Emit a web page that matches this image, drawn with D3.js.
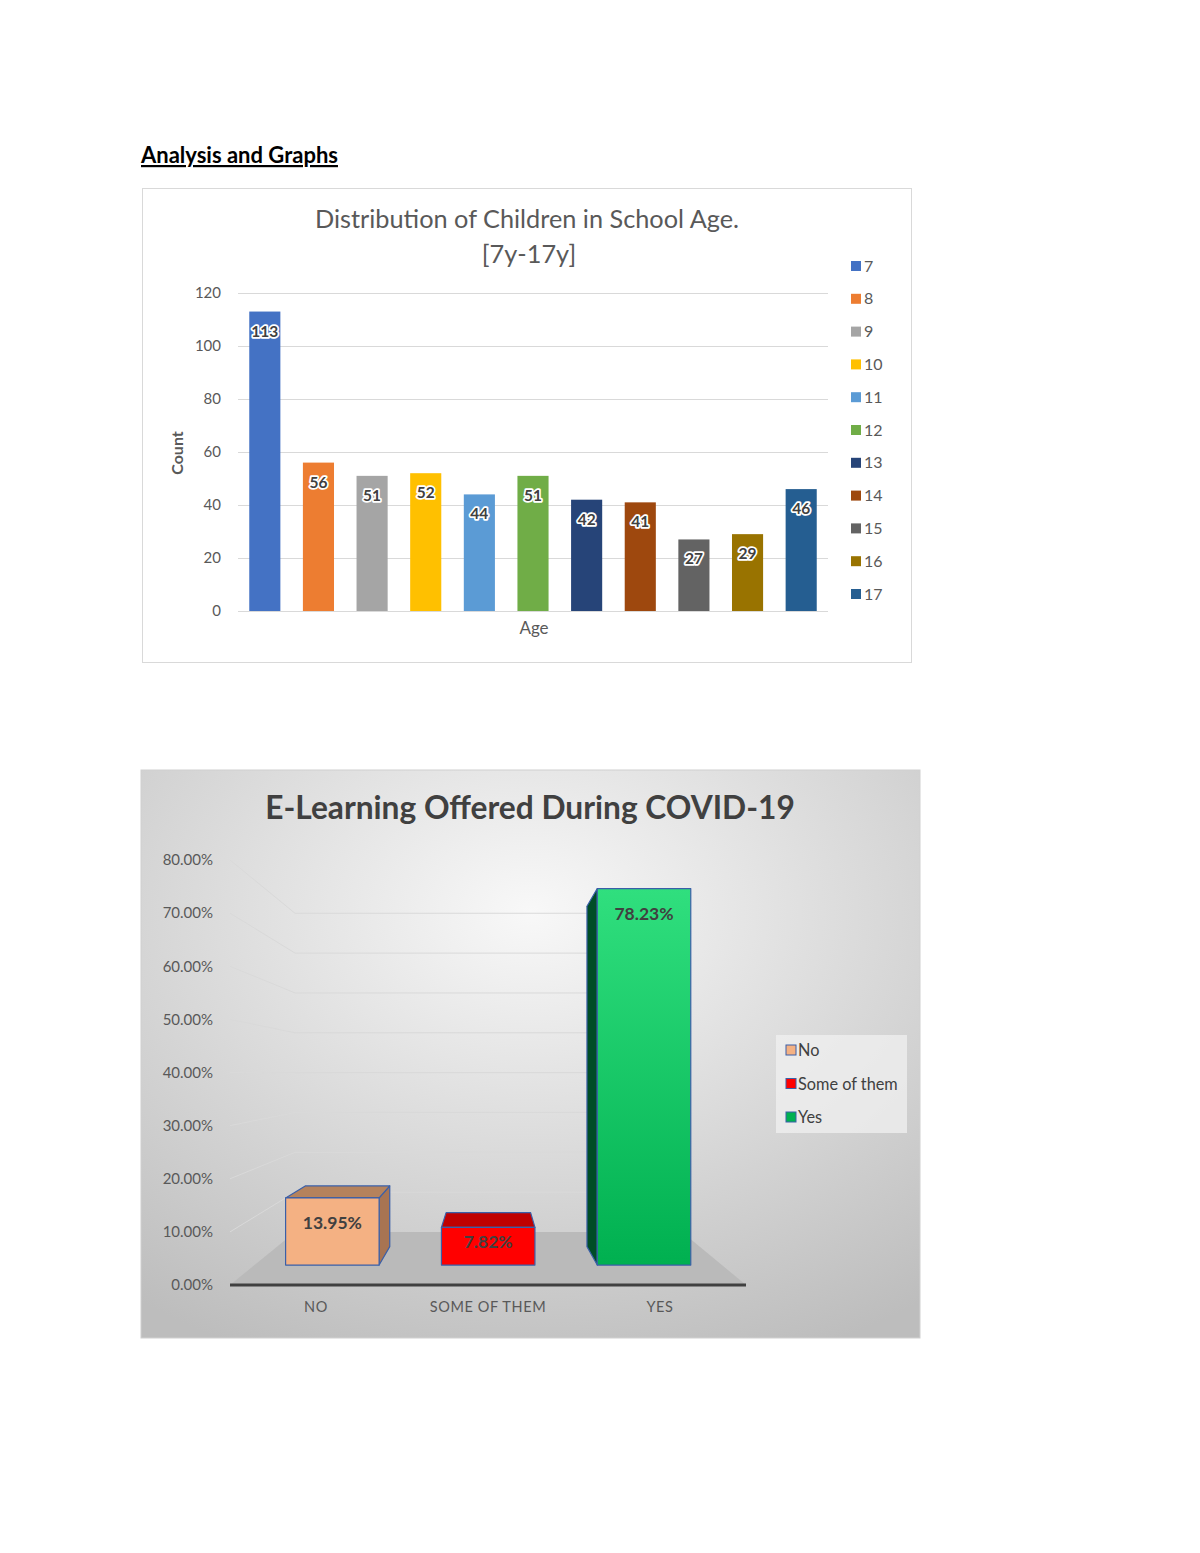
<!DOCTYPE html>
<html>
<head>
<meta charset="utf-8">
<script src="https://cdn.jsdelivr.net/npm/d3@7"></script>
<style>
  html, body { margin: 0; padding: 0; background: #fff; }
  svg { display: block; font-family: Lato, "Noto Sans", sans-serif; }
</style>
</head>
<body>
<div id="page"></div>
<script>
// chart 1: children per age
const ages = ["7", "8", "9", "10", "11", "12", "13", "14", "15", "16", "17"];
const counts = [113, 56, 51, 52, 44, 51, 42, 41, 27, 29, 46];
const ageColors = ["#4472C4", "#ED7D31", "#A5A5A5", "#FFC000", "#5B9BD5", "#70AD47",
                   "#264478", "#9E480E", "#636363", "#997300", "#255E91"];
const countTicks = [0, 20, 40, 60, 80, 100, 120];

// chart 2: e-learning offered
const answers = ["No", "Some of them", "Yes"];
const answerLabels = ["NO", "SOME OF THEM", "YES"];
const shares = [0.1395, 0.0782, 0.7823];
const shareTicks = [0, 0.1, 0.2, 0.3, 0.4, 0.5, 0.6, 0.7, 0.8];
const faceFront = ["#F4B183", "#FF0000", "url(#yesGrad)"];
const faceTop = ["#B5825C", "#C00000", "#1E9E5A"];
const faceSide = ["#A87452", "#A00000", "#004D26"];

const svg = d3.select("#page").append("svg")
  .attr("width", 1200).attr("height", 1553);

const defs = svg.append("defs");
const bg = defs.append("radialGradient").attr("id", "bg2")
  .attr("cx", "50%").attr("cy", "25%").attr("r", "85%");
bg.append("stop").attr("offset", "0%").attr("stop-color", "#f8f8f8");
bg.append("stop").attr("offset", "100%").attr("stop-color", "#bdbdbd");
const yg = defs.append("linearGradient").attr("id", "yesGrad")
  .attr("x1", 0).attr("y1", 0).attr("x2", 0).attr("y2", 1);
yg.append("stop").attr("offset", "0%").attr("stop-color", "#30DF7E");
yg.append("stop").attr("offset", "100%").attr("stop-color", "#00B050");

// page heading
svg.append("text")
  .attr("x", 141).attr("y", 163)
  .attr("font-size", 22).attr("font-weight", "bold")
  .attr("text-decoration", "underline")
  .attr("fill", "#000")
  .text("Analysis and Graphs");

// ---------- chart 1 ----------
const c1 = svg.append("g");
c1.append("rect")
  .attr("x", 142.5).attr("y", 188.5).attr("width", 769).attr("height", 474)
  .attr("fill", "#fff").attr("stroke", "#d9d9d9");

c1.append("text").attr("x", 527).attr("y", 228)
  .attr("text-anchor", "middle").attr("font-size", 25.3).attr("fill", "#595959")
  .text("Distribution of Children in School Age.");
c1.append("text").attr("x", 529).attr("y", 263)
  .attr("text-anchor", "middle").attr("font-size", 25.3).attr("fill", "#595959")
  .text("[7y-17y]");

const x1 = d3.scaleBand().domain(ages).range([238, 828]).paddingInner(0.42).paddingOuter(0.21);
const y1 = d3.scaleLinear().domain([0, 120]).range([611, 293]);

c1.append("g").selectAll("line").data(countTicks).join("line")
  .attr("x1", 238).attr("x2", 828)
  .attr("y1", d => y1(d) + 0.5).attr("y2", d => y1(d) + 0.5)
  .attr("stroke", "#d9d9d9");

const ax1 = c1.append("g").attr("transform", "translate(229,0)")
  .call(d3.axisLeft(y1).tickValues(countTicks).tickSize(0).tickPadding(8));
ax1.select(".domain").remove();
ax1.selectAll("text").attr("font-size", 15).attr("fill", "#595959")
  .attr("font-family", "Lato, sans-serif");

c1.append("g").selectAll("rect").data(counts).join("rect")
  .attr("x", (d, i) => x1(ages[i]))
  .attr("y", d => y1(d))
  .attr("width", x1.bandwidth())
  .attr("height", d => y1(0) - y1(d))
  .attr("fill", (d, i) => ageColors[i]);

c1.append("g").selectAll("text").data(counts).join("text")
  .attr("x", (d, i) => x1(ages[i]) + x1.bandwidth() / 2)
  .attr("y", d => y1(d) + 25)
  .attr("text-anchor", "middle")
  .attr("font-size", 15.5).attr("font-weight", "bold")
  .attr("fill", "#404040")
  .attr("stroke", "#fff").attr("stroke-width", 3.5)
  .attr("stroke-linejoin", "round").attr("paint-order", "stroke")
  .text(d => d);

c1.append("text")
  .attr("transform", "translate(183,453) rotate(-90)")
  .attr("text-anchor", "middle").attr("font-size", 16).attr("font-weight", "bold")
  .attr("fill", "#595959").text("Count");
c1.append("text").attr("x", 534).attr("y", 634)
  .attr("text-anchor", "middle").attr("font-size", 17).attr("fill", "#595959")
  .text("Age");

const lg1 = c1.append("g").selectAll("g").data(ages).join("g")
  .attr("transform", (d, i) => `translate(851,${266 + i * 32.8})`);
lg1.append("rect").attr("x", 0).attr("y", -5).attr("width", 10).attr("height", 10)
  .attr("fill", (d, i) => ageColors[i]);
lg1.append("text").attr("x", 13).attr("y", 5.5).attr("font-size", 16)
  .attr("fill", "#595959").text(d => d);

// ---------- chart 2 ----------
const c2 = svg.append("g");
c2.append("rect")
  .attr("x", 141).attr("y", 770).attr("width", 779).attr("height", 568)
  .attr("fill", "url(#bg2)").attr("stroke", "#d0d0d0");

c2.append("text").attr("x", 530).attr("y", 819)
  .attr("text-anchor", "middle").attr("font-size", 31.7).attr("font-weight", "bold")
  .attr("fill", "#404040").text("E-Learning Offered During COVID-19");

const x2 = d3.scaleBand().domain(answers).range([230, 746]).paddingInner(0.4).paddingOuter(0.2);
const y2 = d3.scaleLinear().domain([0, 0.8]).range([1285, 860]);

// simple perspective: front plane k=1, back wall k=0.75
const V = { x: 490, y: 1073 };
const kWall = 0.75, kFront = 0.906, kBack = 0.819;
const proj = (xf, yf, k) => [V.x + k * (xf - V.x), V.y + k * (yf - V.y)];
const poly = pts => "M" + pts.map(p => p.join(",")).join("L") + "Z";

const [xL, xR] = x2.range();

// gridlines: side wall diagonal + back wall horizontal
const grid = c2.append("g").attr("fill", "none").attr("stroke", "#d9d9d9");
shareTicks.filter(t => t > 0).forEach(t => {
  const a = proj(xL, y2(t), 1), b = proj(xL, y2(t), kWall), c = proj(xR, y2(t), kWall);
  grid.append("path").attr("d", `M${a}L${b}L${c}`);
});

// floor
c2.append("path")
  .attr("d", poly([proj(xL, y2(0), 1), proj(xL, y2(0), kWall), proj(xR, y2(0), kWall), proj(xR, y2(0), 1)]))
  .attr("fill", "#bababa");
c2.append("line")
  .attr("x1", xL).attr("x2", xR).attr("y1", y2(0)).attr("y2", y2(0))
  .attr("stroke", "#404040").attr("stroke-width", 3);

const ax2 = c2.append("g").attr("transform", "translate(221,0)")
  .call(d3.axisLeft(y2).tickValues(shareTicks).tickFormat(d3.format(".2%")).tickSize(0).tickPadding(8));
ax2.select(".domain").remove();
ax2.selectAll("text").attr("font-size", 15).attr("fill", "#595959")
  .attr("font-family", "Lato, sans-serif");

// 3D bars
const bars = c2.append("g").selectAll("g").data(shares).join("g");
bars.each(function (v, i) {
  const g = d3.select(this);
  const x0 = x2(answers[i]), x1b = x0 + x2.bandwidth();
  const yt = y2(v), yb = y2(0);
  const edge = { stroke: "#3A5FA8", "stroke-width": 1.2, "stroke-linejoin": "round" };
  const add = (pts, fill) => {
    const p = g.append("path").attr("d", poly(pts)).attr("fill", fill);
    Object.entries(edge).forEach(([k, val]) => p.attr(k, val));
  };
  if (x1b < V.x) add([proj(x1b, yt, kFront), proj(x1b, yt, kBack), proj(x1b, yb, kBack), proj(x1b, yb, kFront)], faceSide[i]);
  if (x0 > V.x) add([proj(x0, yt, kFront), proj(x0, yt, kBack), proj(x0, yb, kBack), proj(x0, yb, kFront)], faceSide[i]);
  if (yt > V.y) add([proj(x0, yt, kFront), proj(x1b, yt, kFront), proj(x1b, yt, kBack), proj(x0, yt, kBack)], faceTop[i]);
  add([proj(x0, yt, kFront), proj(x1b, yt, kFront), proj(x1b, yb, kFront), proj(x0, yb, kFront)], faceFront[i]);

  const top = proj(x0, yt, kFront)[1], bot = proj(x0, yb, kFront)[1];
  const cx = proj((x0 + x1b) / 2, yt, kFront)[0];
  g.append("text")
    .attr("x", cx).attr("y", top + Math.min(25, (bot - top) * 0.4) + 6)
    .attr("text-anchor", "middle").attr("font-size", 17.5).attr("font-weight", "bold")
    .attr("fill", "#404040").text(d3.format(".2%")(v));
});

c2.append("g").selectAll("text").data(answerLabels).join("text")
  .attr("x", (d, i) => x2(answers[i]) + x2.bandwidth() / 2)
  .attr("y", 1312).attr("text-anchor", "middle")
  .attr("font-size", 14.5).attr("letter-spacing", 0.6).attr("fill", "#595959")
  .text(d => d);

// legend 2
c2.append("rect").attr("x", 776).attr("y", 1035).attr("width", 131).attr("height", 98)
  .attr("fill", "#f0f0f0").attr("opacity", 0.75);
const lg2 = c2.append("g").selectAll("g").data(answers).join("g")
  .attr("transform", (d, i) => `translate(786,${1050 + i * 33.5})`);
lg2.append("rect").attr("x", 0).attr("y", -5).attr("width", 10).attr("height", 10)
  .attr("fill", (d, i) => i === 2 ? "#00B050" : faceFront[i])
  .attr("stroke", "#3A5FA8");
lg2.append("text").attr("x", 12).attr("y", 6).attr("font-size", 16.3)
  .attr("fill", "#404040").text(d => d);
</script>
</body>
</html>
